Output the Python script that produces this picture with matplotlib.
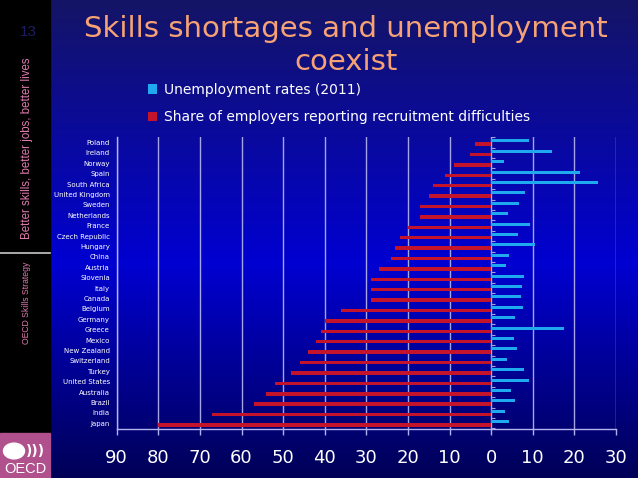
import numpy as np
import matplotlib
matplotlib.use("Agg")
import matplotlib.pyplot as plt
from matplotlib.patches import Rectangle, Circle
from matplotlib.colors import LinearSegmentedColormap

countries = ["Poland", "Ireland", "Norway", "Spain", "South Africa", "United Kingdom",
             "Sweden", "Netherlands", "France", "Czech Republic", "Hungary", "China",
             "Austria", "Slovenia", "Italy", "Canada", "Belgium", "Germany", "Greece",
             "Mexico", "New Zealand", "Switzerland", "Turkey", "United States",
             "Australia", "Brazil", "India", "Japan"]
employers = [4, 5, 9, 11, 14, 15, 17, 17, 20, 22, 23, 24, 27, 29, 29, 29,
             36, 40, 41, 42, 44, 46, 48, 52, 54, 57, 67, 80]
unemployment = [9.2, 14.6, 3.2, 21.4, 25.6, 8.2, 6.6, 4.1, 9.4, 6.4, 10.6, 4.2,
                3.6, 7.8, 7.3, 7.2, 7.7, 5.7, 17.6, 5.5, 6.2, 3.8, 7.9, 9.0,
                4.8, 5.8, 3.4, 4.2]
xticks = [-90, -80, -70, -60, -50, -40, -30, -20, -10, 0, 10, 20, 30]
xticklabels = ["90", "80", "70", "60", "50", "40", "30", "20", "10", "0", "10", "20", "30"]

W, H = 638, 478
fig = plt.figure(figsize=(W / 100, H / 100), dpi=100)

# background gradient
bg = fig.add_axes([0, 0, 1, 1], zorder=-10)
cmap = LinearSegmentedColormap.from_list(
    "bgc", [(0.0, (0.08, 0.08, 0.40)), (0.55, (0.0, 0.0, 0.82)), (1.0, (0.0, 0.0, 0.34))])
grad = np.linspace(0, 1, 256).reshape(-1, 1)
bg.imshow(grad, aspect="auto", cmap=cmap, extent=[0, 1, 0, 1], origin="upper")
bg.set_xlim(0, 1); bg.set_ylim(0, 1)
bg.axis("off")

# left black panel
bg.add_patch(Rectangle((0, 0), 50 / W, 1, color="black", zorder=1))
bg.add_patch(Rectangle((0, 0), 50 / W, 45 / H, color="#b0508c", zorder=2))
bg.plot([0, 50 / W], [1 - 253 / H, 1 - 253 / H], color="#c8c8c8", lw=1.2, zorder=3)
bg.add_patch(Circle((14 / W, 1 - 451 / H), 10.5 / W, color="white", zorder=3,
                    transform=bg.transAxes))
fig.text(35 / W, 1 - 451 / H, ")))", color="white", fontsize=10, fontweight="bold",
         ha="center", va="center")
fig.text(25 / W, 1 - 469 / H, "OECD", color="white", fontsize=10.5,
         family="Liberation Sans", ha="center", va="center")
fig.text(28 / W, 1 - 32 / H, "13", color="#1c1c66", fontsize=11,
         family="Liberation Sans", ha="center", va="center")
fig.text(27 / W, 1 - 148 / H, "Better skills, better jobs, better lives", color="#e07ab0",
         fontsize=8.3, family="Liberation Sans", rotation=90, ha="center", va="center")
fig.text(27 / W, 1 - 303 / H, "OECD Skills Strategy", color="#e07ab0",
         fontsize=6.2, family="Liberation Sans", rotation=90, ha="center", va="center")

# title
fig.text(346 / W, 1 - 37 / H, "Skills shortages and unemployment", color="#f6a274",
         fontsize=21, ha="center", va="baseline")
fig.text(346 / W, 1 - 70 / H, "coexist", color="#f6a274",
         fontsize=21, ha="center", va="baseline")

# main axes
x0, x1 = 116.7 / W, 616 / W
ytop, ybot = 137 / H, 429 / H
ax = fig.add_axes([x0, 1 - ybot, x1 - x0, ybot - ytop])
ax.set_facecolor("none")
y = np.arange(len(countries))
blue = "#1faaf0"
red = "#c4142c"
hb = ax.barh(y - 0.15, unemployment, height=0.28, color=blue, zorder=3)
hr = ax.barh(y + 0.16, [-v for v in employers], height=0.34, color=red, zorder=3)

ax.set_xlim(-90, 30)
ax.set_ylim(len(countries) - 0.45, -0.52)
ax.set_xticks(xticks)
ax.set_xticklabels(xticklabels)
ax.set_yticks(y)
ax.set_yticklabels(countries)
ax.tick_params(axis="y", length=0, pad=5, labelsize=5, labelcolor="white")
ax.tick_params(axis="x", length=4.5, width=1, color="#b0b0f0", pad=10,
               labelsize=13, labelcolor="white")
ax.grid(axis="x", color="#a4a4e6", lw=1, zorder=1)
for s in ["top", "right"]:
    ax.spines[s].set_visible(False)
for s in ["left", "bottom"]:
    ax.spines[s].set_color("#b4b4f0")
    ax.spines[s].set_linewidth(1)

# small ticks along the zero line
sec = ax.secondary_yaxis(0.75)
sec.set_yticks(np.arange(len(countries) + 1) - 0.5)
sec.set_yticklabels([])
sec.tick_params(length=3, width=0.8, color="#a4a4e6")
sec.spines["left"].set_visible(False)

# legend
leg = fig.legend([hb, hr], ["Unemployment rates (2011)",
                            "Share of employers reporting recruitment difficulties"],
                 loc="upper left", bbox_to_anchor=(148 / W, 1 - 83 / H),
                 frameon=False, fontsize=10, labelcolor="white",
                 handlelength=0.65, handleheight=0.65, handletextpad=0.5,
                 labelspacing=0.95, borderpad=0, borderaxespad=0)

fig.savefig("out.png", dpi=100, facecolor="black")
